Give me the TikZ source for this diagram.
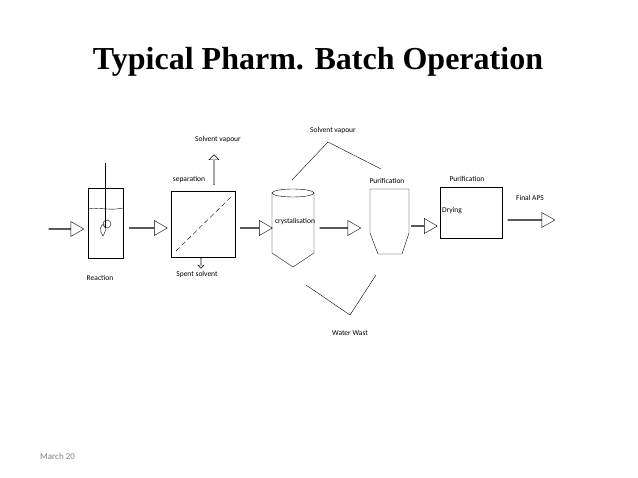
\documentclass[tikz,border=0pt]{standalone}
\usepackage{fontspec}
\setmainfont{Carlito}
\newfontfamily\titlefont{Liberation Serif}
\usetikzlibrary{shapes.arrows}
\begin{document}
\begin{tikzpicture}[x=1pt,y=-1pt,
  lab/.style={font=\fontsize{7.5}{8}\selectfont,inner sep=0pt},
  barr/.style={single arrow,draw,thin,minimum height=#1,minimum width=15pt,single arrow head extend=4pt,inner sep=0pt,single arrow tip angle=60},
  ln/.style={draw,thin}]
\useasboundingbox (0,0) rectangle (638,478);
\node[font=\titlefont\bfseries\fontsize{32}{36}\selectfont] (title) at (318,62) {Typical Pharm. Batch Operation};
\node[font=\fontsize{9}{10}\selectfont,text=gray,anchor=west,inner sep=0pt] (date) at (40,456) {March 20};
% arrows
\node[barr=35pt] (a1) at (66,229) {};
\node[barr=38pt] (a2) at (148,228) {};
\node[barr=32pt] (a3) at (256,228) {};
\node[barr=41pt] (a4) at (340,228) {};
\node[barr=26pt] (a5) at (424,226) {};
\node[barr=47pt] (a6) at (531,220) {};
% reaction vessel
\draw[thin] (88,188) rectangle (123,258);
\draw[thin] (88,209) .. controls (100,207) and (110,211) .. (123,208);
\draw[thin] (105,163) -- (105,228);
\draw[thin] (105,225) .. controls (100,222) and (99,232) .. (103,236) .. controls (106,230) .. (105,226)
  (107,224) circle (4);
\node[lab] (reac) at (100,278) {Reaction};
% separation
\draw[thin] (171,191) rectangle (235,257);
\draw[thin,dash pattern=on 5pt off 3pt] (176,251) -- (233,195);
\node[lab] (sep) at (189,180) {separation};
\node[single arrow,draw,thin,shape border rotate=90,minimum height=30pt,minimum width=10pt,single arrow head extend=2pt,inner sep=0pt] (up) at (214,170) {};
\node[lab] (sv1) at (218,140) {Solvent vapour};
\node[single arrow,draw,thin,shape border rotate=270,minimum height=10pt,minimum width=6pt,single arrow head extend=1pt,inner sep=0pt] (dn) at (201,263) {};
\node[lab] (spent) at (197,275) {Spent solvent};
% crystallisation
\draw[thin] (272,193) -- (272,253) -- (293,267) -- (314,253) -- (314,193);
\draw[thin] (293,193) ellipse (21 and 4);
\node[lab] (cry) at (295,222) {crystalisation};
\coordinate (v1) at (292,180);
\coordinate (v2) at (328,142);
\coordinate (v3) at (381,169);
\draw[thin] (v1) -- (v2) -- (v3);
\node[lab] (sv2) at (333,131) {Solvent vapour};
% purification hopper
\draw[thin] (370,233) -- (370,189) -- (409,189) -- (409,233) -- (402,254) -- (378,254) -- cycle;
\node[lab] (pur1) at (387,181) {Purification};
\coordinate (w1) at (306,285);
\coordinate (w2) at (350,315);
\coordinate (w3) at (376,275);
\draw[thin] (w1) -- (w2) -- (w3);
\node[lab] (ww) at (350,333) {Water Wast};
% drying
\draw[thin] (440,187) rectangle (502,238);
\node[lab] (pur2) at (467,179) {Purification};
\node[lab] (dry) at (452,211) {Drying};
\node[lab] (fin) at (530,198) {Final APS};
\end{tikzpicture}
\end{document}
